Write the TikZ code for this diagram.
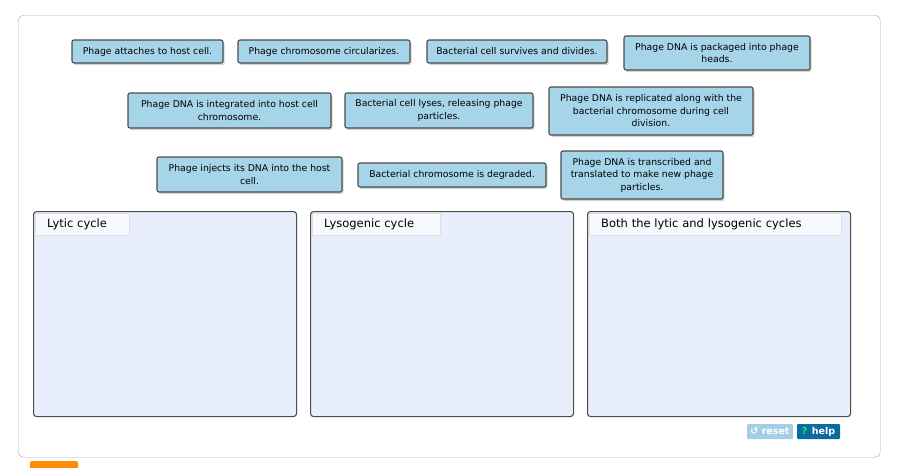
\documentclass[tikz,border=0pt]{standalone}
\usepackage{fontspec}
\setmainfont{DejaVu Sans}
\usetikzlibrary{shadows}
\definecolor{card}{HTML}{A6D5EA}
\definecolor{bin}{HTML}{E8EEFC}
\definecolor{tab}{HTML}{F7F9FE}
\definecolor{resetc}{HTML}{A3CFE6}
\definecolor{helpc}{HTML}{0B6AA0}
\tikzset{
 card/.style={draw=black!70,line width=1.1pt,fill=card,rounded corners=2pt,
   drop shadow={shadow xshift=1.5pt,shadow yshift=-2pt,opacity=0.35},
   font=\fontsize{9.3}{12.5}\selectfont,align=center,inner sep=0pt},
 bin/.style={draw=black!70,line width=1.1pt,fill=bin,rounded corners=3pt},
 tabl/.style={fill=tab,draw=black!12,anchor=north west,font=\fontsize{11.5}{13}\selectfont,inner xsep=0pt,align=left},
 btn/.style={rounded corners=1pt,font=\bfseries\fontsize{9.5}{11}\selectfont,text=white,inner sep=0pt}
}
\newcommand{\crd}[6]{\node[card,minimum width=#4-#2,minimum height=#5-#3] (#1) at ({(#2+#4)/2},{(#3+#5)/2+1}) {#6};}
\begin{document}
\begin{tikzpicture}[x=1pt,y=-1pt]
\useasboundingbox (0,0) rectangle (904,467);
\node[draw=black!35,rounded corners=5pt,minimum width=862,minimum height=442,inner sep=0pt,anchor=north west] (panel) at (18,15) {};
\crd{c1}{72}{39}{223}{62}{Phage attaches to host cell.}
\crd{c2}{238}{39}{410}{62}{Phage chromosome circularizes.}
\crd{c3}{427}{39}{607}{62}{Bacterial cell survives and divides.}
\crd{c4}{624}{35}{810}{69}{Phage DNA is packaged into phage\\heads.}
\crd{c5}{128}{92}{331}{127}{Phage DNA is integrated into host cell\\chromosome.}
\crd{c6}{345}{92}{533}{127}{Bacterial cell lyses, releasing phage\\particles.}
\crd{c7}{549}{86}{753}{134}{Phage DNA is replicated along with the\\bacterial chromosome during cell\\division.}
\crd{c8}{157}{156}{342}{191}{Phage injects its DNA into the host\\cell.}
\crd{c9}{358}{162}{546}{186}{Bacterial chromosome is degraded.}
\crd{c10}{561}{150}{723}{198}{Phage DNA is transcribed and\\translated to make new phage\\particles.}
\foreach \n/\x/\w/\t in {b1/33/94/Lytic cycle, b2/310/128/Lysogenic cycle, b3/587/252/Both the lytic and lysogenic cycles}{
 \node[bin,minimum width=263,minimum height=205,inner sep=0pt,anchor=north west] (\n) at (\x,211) {};
 \node[tabl,minimum width=\w,minimum height=22,text width=\w] (\n t) at (\x+2,213) {\hspace*{12pt}\t};
}
\node[btn,fill=resetc,minimum width=46,minimum height=15] (reset) at (770,431.5) {↺ reset};
\node[btn,fill=helpc,minimum width=43,minimum height=15] (help) at (818.5,431.5) {\textcolor{green!70!cyan}{?} help};
\fill[orange!90!yellow,rounded corners=2pt] (30,461) rectangle (78,470);
\end{tikzpicture}
\end{document}
